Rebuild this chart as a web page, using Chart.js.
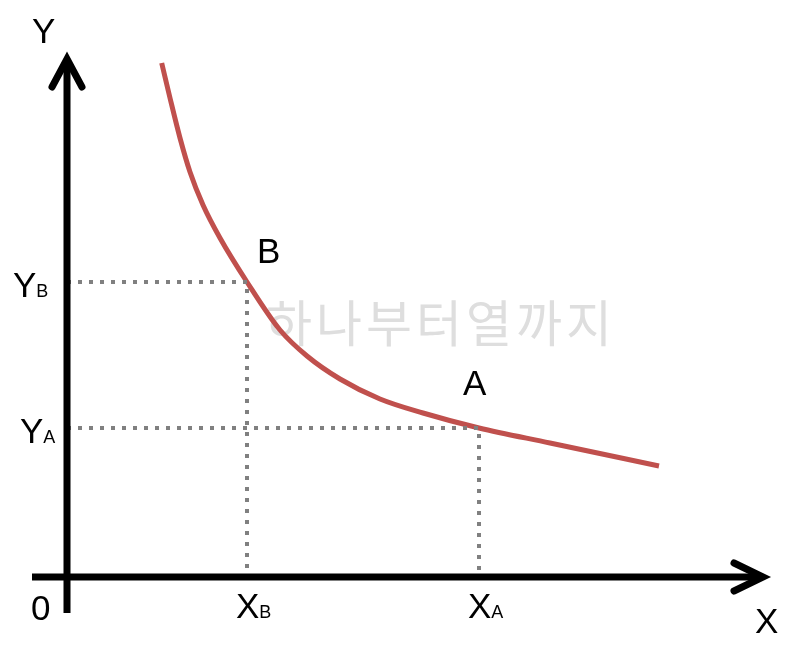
<!DOCTYPE html>
<html>
<head>
<meta charset="utf-8">
<script src="https://cdn.jsdelivr.net/npm/chart.js@4/dist/chart.umd.min.js"></script>
<style>
  body { margin: 0; background: #fff; }
  canvas { display: block; }
</style>
</head>
<body>
<canvas id="chart" width="800" height="659"></canvas>
<script>
// curve (arbitrary units, origin at the axes corner)
const curveX = [9.47, 10.3, 11.3, 12.3, 13.6, 15.3, 18.0, 21.3, 24.0, 27.3, 31.3, 35.6, 41.2, 48.3, 59.2];
const curveY = [51.4, 47.9, 43.9, 40.5, 37.2, 33.9, 29.5, 24.7, 22.1, 19.8, 17.8, 16.4, 14.9, 13.4, 11.1];

// marked points A and B
const pointNames = ["A", "B"];
const pointX = [41.2, 18.0];
const pointY = [14.9, 29.5];

// visible range of the plot and of the two drawn axes
const xRange = [-6.7, 73.3];
const yRange = [-8.2, 57.7];
const xAxisSpan = [-3.5, 69.8];
const yAxisSpan = [-3.6, 52.0];

const watermark = "하나부터열까지";

const curveData = curveX.map((x, i) => ({ x, y: curveY[i] }));

const guideSets = pointNames.map((name, i) => ({
  label: "guide " + name,
  data: [
    { x: 0, y: pointY[i] },
    { x: pointX[i], y: pointY[i] },
    { x: pointX[i], y: 0 }
  ],
  showLine: true,
  borderColor: "#808080",
  borderWidth: 4,
  borderDash: [4, 7],
  pointRadius: 0,
  tension: 0
}));

const FONT = "'Liberation Sans', Arial, sans-serif";

function drawSub(ctx, main, sub, x, base) {
  ctx.font = "35px " + FONT;
  ctx.fillText(main, x, base);
  const w = ctx.measureText(main).width;
  ctx.font = "18px " + FONT;
  ctx.fillText(sub, x + w, base);
}

const backdrop = {
  id: "backdrop",
  beforeDatasetsDraw(chart) {
    const ctx = chart.ctx;
    const xs = chart.scales.x, ys = chart.scales.y;
    ctx.save();
    ctx.fillStyle = "#dedede";
    ctx.font = "50px 'Noto Sans CJK KR', sans-serif";
    ctx.letterSpacing = "4px";
    ctx.textAlign = "center";
    ctx.textBaseline = "middle";
    // watermark sits between the two points
    const cx = (xs.getPixelForValue(pointX[0]) + xs.getPixelForValue(pointX[1])) / 2 + 78;
    const cy = ys.getPixelForValue(pointY[1]) + 41;
    ctx.fillText(watermark, cx, cy);
    ctx.restore();
  }
};

const axesAndLabels = {
  id: "axesAndLabels",
  afterDatasetsDraw(chart) {
    const ctx = chart.ctx;
    const xs = chart.scales.x, ys = chart.scales.y;
    const ox = xs.getPixelForValue(0), oy = ys.getPixelForValue(0);
    const xl = xs.getPixelForValue(xAxisSpan[0]), xr = xs.getPixelForValue(xAxisSpan[1]);
    const yb = ys.getPixelForValue(yAxisSpan[0]), yt = ys.getPixelForValue(yAxisSpan[1]);

    ctx.save();
    ctx.strokeStyle = "#000";
    ctx.lineWidth = 7;
    ctx.lineCap = "butt";
    ctx.beginPath();
    ctx.moveTo(xl, oy); ctx.lineTo(xr - 2, oy);
    ctx.moveTo(ox, yb); ctx.lineTo(ox, yt + 2);
    ctx.stroke();

    ctx.lineCap = "round";
    ctx.lineJoin = "miter";
    ctx.beginPath();
    ctx.moveTo(xr - 31, oy - 14); ctx.lineTo(xr - 2, oy); ctx.lineTo(xr - 31, oy + 14);
    ctx.moveTo(ox - 15, yt + 30); ctx.lineTo(ox, yt + 2); ctx.lineTo(ox + 15, yt + 30);
    ctx.stroke();

    ctx.fillStyle = "#000";
    ctx.textAlign = "left";
    ctx.textBaseline = "alphabetic";
    ctx.font = "35px " + FONT;
    ctx.fillText("Y", ox - 35, yt - 14);
    ctx.fillText("X", xr - 10, oy + 56);
    ctx.fillText("0", ox - 36, oy + 43);

    // point names next to the curve
    pointNames.forEach((name, i) => {
      const px = xs.getPixelForValue(pointX[i]), py = ys.getPixelForValue(pointY[i]);
      ctx.font = "35px " + FONT;
      if (name === "A") ctx.fillText(name, px - 16, py - 33);
      else ctx.fillText(name, px + 10, py - 19);
      const yOff = name === "A" ? 47 : 54;
      drawSub(ctx, "Y", name, ox - yOff, py + 15);
      drawSub(ctx, "X", name, px - 11, oy + 41);
    });
    ctx.restore();
  }
};

new Chart(document.getElementById("chart"), {
  type: "scatter",
  data: {
    datasets: [
      ...guideSets,
      {
        label: "curve",
        data: curveData,
        showLine: true,
        borderColor: "#c0504d",
        borderWidth: 5,
        pointRadius: 0,
        cubicInterpolationMode: "monotone"
      }
    ]
  },
  options: {
    responsive: false,
    animation: false,
    events: [],
    layout: { padding: 0 },
    plugins: { legend: { display: false }, tooltip: { enabled: false } },
    scales: {
      x: { type: "linear", min: xRange[0], max: xRange[1], display: false },
      y: { type: "linear", min: yRange[0], max: yRange[1], display: false }
    }
  },
  plugins: [backdrop, axesAndLabels]
});
</script>
</body>
</html>
